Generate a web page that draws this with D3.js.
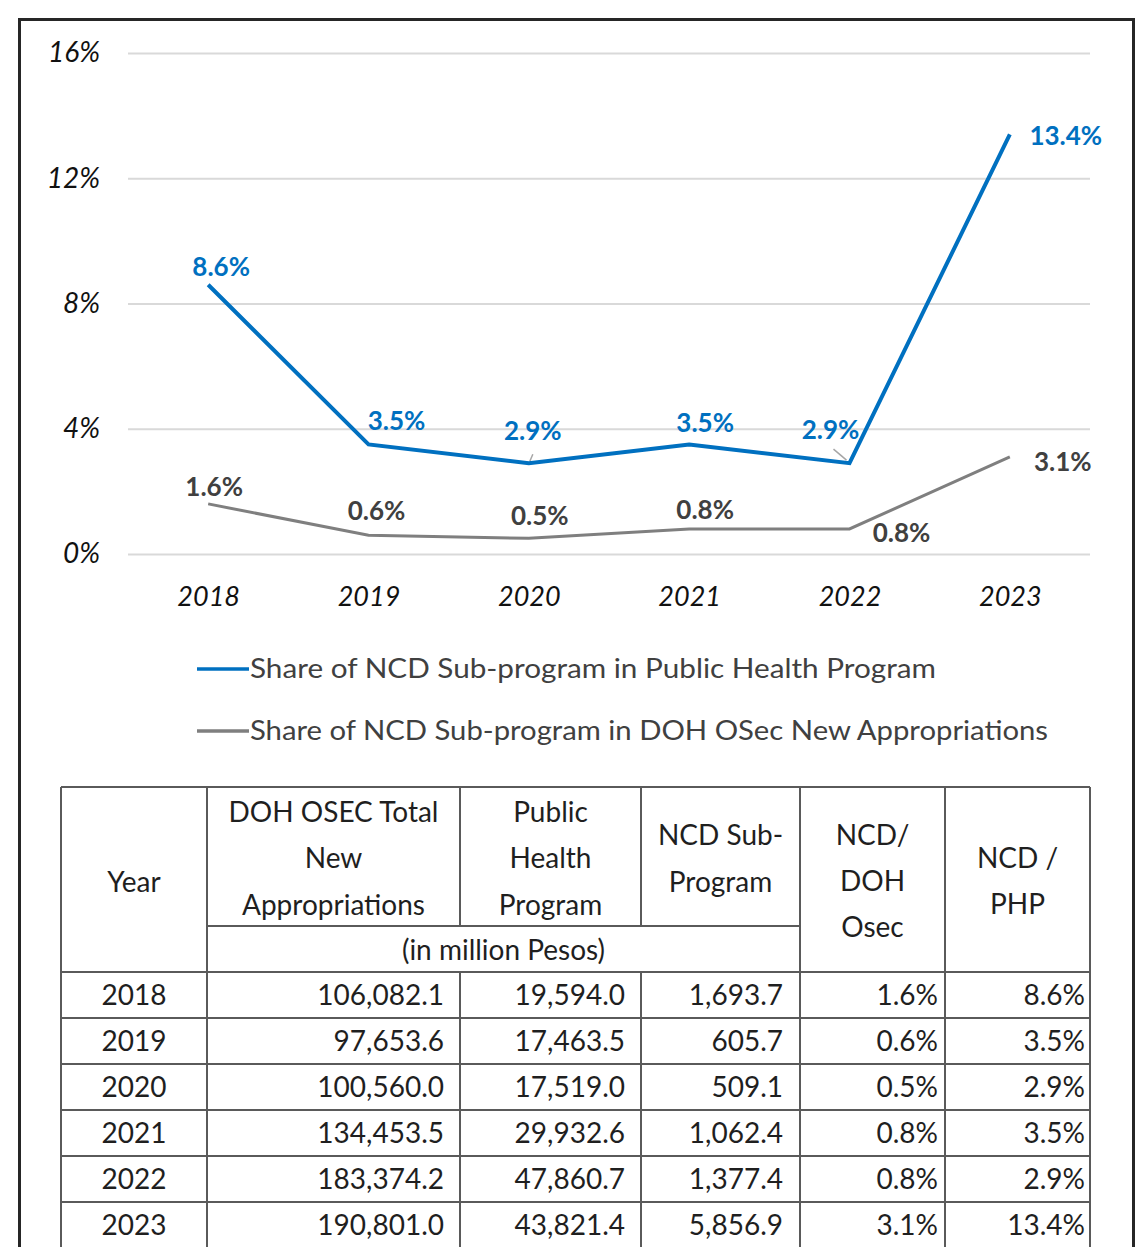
<!DOCTYPE html>
<html>
<head>
<meta charset="utf-8">
<script src="https://cdn.jsdelivr.net/npm/d3@7"></script>
<style>
  body { margin: 0; background: #fff; }
  svg { display: block; font-family: Lato, "Open Sans", sans-serif; }
</style>
</head>
<body>
<script>
// chart data
var years = [2018, 2019, 2020, 2021, 2022, 2023];
var shareInPHP = [8.6, 3.5, 2.9, 3.5, 2.9, 13.4];   // blue
var shareInDOH = [1.6, 0.6, 0.5, 0.8, 0.8, 3.1];    // gray
var yTicks = [0, 4, 8, 12, 16];
var legendLabels = [
  "Share of NCD Sub-program in Public Health Program",
  "Share of NCD Sub-program in DOH OSec New Appropriations"
];

// table data
var dohTotal = [106082.1, 97653.6, 100560.0, 134453.5, 183374.2, 190801.0];
var phpTotal = [19594.0, 17463.5, 17519.0, 29932.6, 47860.7, 43821.4];
var ncdTotal = [1693.7, 605.7, 509.1, 1062.4, 1377.4, 5856.9];
var headerCells = [
  ["Year"],
  ["DOH OSEC Total", "New", "Appropriations"],
  ["Public", "Health", "Program"],
  ["NCD Sub-", "Program"],
  ["NCD/", "DOH", "Osec"],
  ["NCD /", "PHP"]
];
var subHeader = "(in million Pesos)";

// label offsets from the point (layout only)
var blueOff = [[13, -18], [28, -24], [4, -33], [16, -22], [-19, -34], [56, 1]];
var grayOff = [[6, -17], [8, -25], [11, -23], [16, -19], [52, 4], [53, 5]];

var W = 1142, H = 1247;
var blue = "#0070c0", gray = "#7f7f7f", labelGray = "#404040";

var svg = d3.select("body").append("svg")
    .attr("width", W)
    .attr("height", H);

// outer frame
svg.append("rect")
    .attr("x", 19.5).attr("y", 19.5)
    .attr("width", 1114).attr("height", 1300)
    .attr("fill", "none")
    .attr("stroke", "#262626")
    .attr("stroke-width", 3);

var plot = {left: 128, right: 1090, top: 53, bottom: 554};

var x = d3.scalePoint().domain(years).range([plot.left, plot.right]).padding(0.5);
var y = d3.scaleLinear().domain([0, 16]).range([plot.bottom, plot.top]);

// y axis + gridlines
var gY = svg.append("g")
    .attr("transform", "translate(" + plot.left + ",0)")
    .call(d3.axisLeft(y).tickValues(yTicks).tickSize(-(plot.right - plot.left))
      .tickPadding(28).tickFormat(function (d) { return d + "%"; }));
gY.select(".domain").remove();
gY.selectAll(".tick line").attr("stroke", "#d9d9d9").attr("stroke-width", 2);
gY.selectAll(".tick text")
    .attr("font-size", 28).attr("font-style", "italic")
    .attr("fill", "#111").attr("font-family", "Lato");

// x axis
var gX = svg.append("g")
    .attr("transform", "translate(0," + plot.bottom + ")")
    .call(d3.axisBottom(x).tickSize(0).tickPadding(33));
gX.select(".domain").remove();
gX.selectAll(".tick text")
    .attr("font-size", 27).attr("font-style", "italic")
    .attr("fill", "#111").attr("font-family", "Lato");

var line = d3.line()
    .x(function (d, i) { return x(years[i]); })
    .y(function (d) { return y(d); });

// leader lines for two blue labels
var leaders = [[2, [4, -9], [1, -2]], [4, [-16, -14], [-3, -3]]];
leaders.forEach(function (l) {
  var px = x(years[l[0]]), py = y(shareInPHP[l[0]]);
  svg.append("line")
      .attr("x1", px + l[1][0]).attr("y1", py + l[1][1])
      .attr("x2", px + l[2][0]).attr("y2", py + l[2][1])
      .attr("stroke", "#a6a6a6").attr("stroke-width", 1.5);
});

svg.append("path").datum(shareInDOH)
    .attr("d", line).attr("fill", "none")
    .attr("stroke", gray).attr("stroke-width", 3);
svg.append("path").datum(shareInPHP)
    .attr("d", line).attr("fill", "none")
    .attr("stroke", blue).attr("stroke-width", 4);

function addLabels(vals, offs, color) {
  svg.append("g").selectAll("text").data(vals).join("text")
      .attr("x", function (d, i) { return x(years[i]) + offs[i][0]; })
      .attr("y", function (d, i) { return y(d) + offs[i][1]; })
      .attr("dy", "0.36em")
      .attr("text-anchor", "middle")
      .attr("font-size", 26).attr("font-weight", "bold")
      .attr("fill", color)
      .text(function (d) { return d.toFixed(1) + "%"; });
}
addLabels(shareInPHP, blueOff, blue);
addLabels(shareInDOH, grayOff, labelGray);

// legend
var legendColors = [blue, gray];
var legendY = [669, 731];
var legendW = [686, 798];
legendLabels.forEach(function (t, i) {
  svg.append("line")
      .attr("x1", 197).attr("x2", 249)
      .attr("y1", legendY[i]).attr("y2", legendY[i])
      .attr("stroke", legendColors[i]).attr("stroke-width", 3.5);
  svg.append("text")
      .attr("x", 250).attr("y", legendY[i]).attr("dy", "0.36em")
      .attr("font-size", 26).attr("fill", labelGray)
      .attr("textLength", legendW[i]).attr("lengthAdjust", "spacingAndGlyphs")
      .text(t);
});

// table
var colX = [61, 207, 460, 641, 800, 945, 1090];
var tTop = 787, hRow1 = 926, hRow2 = 972, rowH = 46, tBottom = 1260;
var tStroke = "#5a5a5a";
var tg = svg.append("g").attr("stroke", tStroke).attr("stroke-width", 2);

function hline(x1, x2, yy) {
  tg.append("line").attr("x1", x1).attr("x2", x2).attr("y1", yy).attr("y2", yy);
}
function vline(xx, y1, y2) {
  tg.append("line").attr("x1", xx).attr("x2", xx).attr("y1", y1).attr("y2", y2);
}
hline(colX[0], colX[6], tTop);
hline(colX[1], colX[4], hRow1);
years.forEach(function (d, i) { hline(colX[0], colX[6], hRow2 + i * rowH); });
colX.forEach(function (cx, i) {
  if (i === 2 || i === 3) {
    vline(cx, tTop, hRow1);
    vline(cx, hRow2, tBottom);
  } else {
    vline(cx, tTop, tBottom);
  }
});

var tText = svg.append("g").attr("font-size", 28).attr("fill", "#1f1f1f");
var headerY = [[882], [812, 858, 905], [812, 858, 905], [835, 882], [835, 881, 927], [858, 904]];
headerCells.forEach(function (lines, c) {
  var cx = (colX[c] + colX[c + 1]) / 2;
  lines.forEach(function (t, k) {
    tText.append("text")
        .attr("x", cx).attr("y", headerY[c][k]).attr("dy", "0.36em")
        .attr("text-anchor", "middle").text(t);
  });
});
tText.append("text")
    .attr("x", (colX[1] + colX[4]) / 2).attr("y", 950).attr("dy", "0.36em")
    .attr("text-anchor", "middle").text(subHeader);

var fmt = d3.format(",.1f");
var rightEdge = [444, 625, 783, 938, 1085];
var cols = [
  dohTotal.map(fmt), phpTotal.map(fmt), ncdTotal.map(fmt),
  shareInDOH.map(function (d) { return d.toFixed(1) + "%"; }),
  shareInPHP.map(function (d) { return d.toFixed(1) + "%"; })
];
years.forEach(function (yr, i) {
  var cy = hRow2 + i * rowH + rowH / 2;
  tText.append("text")
      .attr("x", (colX[0] + colX[1]) / 2).attr("y", cy).attr("dy", "0.36em")
      .attr("text-anchor", "middle").text(yr);
  cols.forEach(function (col, c) {
    tText.append("text")
        .attr("x", rightEdge[c]).attr("y", cy).attr("dy", "0.36em")
        .attr("text-anchor", "end").text(col[i]);
  });
});
</script>
</body>
</html>
